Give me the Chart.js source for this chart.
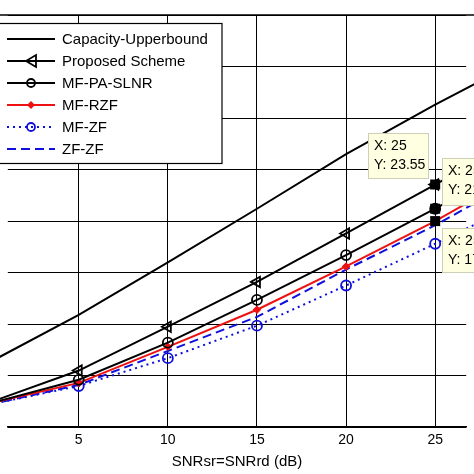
<!DOCTYPE html>
<html><head><meta charset="utf-8">
<script src="https://cdn.jsdelivr.net/npm/chart.js@4"></script>
<style>html,body{margin:0;padding:0;background:#fff}#w{width:474px;height:474px}</style>
</head><body><div id="w"><canvas id="c"></canvas></div>
<script>
const snr = [0, 5, 10, 15, 20, 25, 30];
const capacity = [6.3, 10.9, 16.0, 21.2, 26.5, 31.3, 35.8];
const proposed = [2.4, 5.5, 9.75, 14.1, 18.8, 23.55, 28.4];
const mfPaSlnr = [2.3, 4.6, 8.2, 12.35, 16.7, 21.2, 25.9];
const mfRzf = [2.3, 4.3, 7.8, 11.4, 15.6, 20.0, 24.9];
const mfZf = [2.2, 4.0, 6.7, 9.85, 13.75, 17.8, 22.0];
const zfZf = [2.2, 4.1, 7.4, 10.7, 15.3, 19.6, 24.4];
const xTicks = [5, 10, 15, 20, 25];
const legendNames = ['Capacity-Upperbound','Proposed Scheme','MF-PA-SLNR','MF-RZF','MF-ZF','ZF-ZF'];
const tipTexts = [['X: 25','Y: 23.55'],['X: 25','Y: 21.2'],['X: 25','Y: 17.8']];

const pts = a => a.map((v,i)=>({x:snr[i], y:v}));
const F = '"Liberation Sans", Arial, sans-serif';

const styles = [
 {c:'#000', dash:[], pt:false},
 {c:'#000', dash:[], pt:'triangle', rot:-90, r:6},
 {c:'#000', dash:[], pt:'circle', r:5},
 {c:'#ee1111', dash:[], pt:'rectRot', r:3, fill:true},
 {c:'#1010dd', dash:[2,4], pt:'circle', r:5},
 {c:'#1010dd', dash:[9,5], pt:false}
];
const series = [capacity, proposed, mfPaSlnr, mfRzf, mfZf, zfZf];

const overlay = {
 id:'overlay',
 afterDraw(ch){
  const g = ch.ctx, xs = ch.scales.x, ys = ch.scales.y;
  g.save(); g.strokeStyle='#000'; g.lineWidth=1.5;
  g.beginPath(); g.moveTo(0, ch.chartArea.top); g.lineTo(474, ch.chartArea.top); g.stroke();
  const px = xs.getPixelForValue(25);
  const sq = [proposed[5], mfPaSlnr[5], mfRzf[5]];
  g.fillStyle='#000';
  sq.forEach(v=>{const py=ys.getPixelForValue(v); g.fillRect(px-5,py-5,10,10);});
  const boxes = [[368,133,60,45],[442,158,40,47],[442,228,40,44]];
  g.font = '14px '+F; g.textBaseline='middle';
  boxes.forEach((b,i)=>{
   g.fillStyle='#ffffe1'; g.strokeStyle='#cfcfb8'; g.lineWidth=1;
   g.fillRect(b[0],b[1],b[2],b[3]); g.strokeRect(b[0]+0.5,b[1]+0.5,b[2],b[3]);
   g.fillStyle='#000';
   g.fillText(tipTexts[i][0], b[0]+6, b[1]+13);
   g.fillText(tipTexts[i][1], b[0]+6, b[1]+32);
  });
  g.fillStyle='#fff'; g.fillRect(-2,23,224,140);
  g.strokeStyle='#000'; g.lineWidth=1.2; g.strokeRect(-2,23.5,224,140);
  g.font='15px '+F;
  legendNames.forEach((n,i)=>{
   const y = 39 + i*22, s = styles[i];
   g.strokeStyle=s.c; g.lineWidth = 1.8; g.setLineDash(s.dash);
   g.beginPath(); g.moveTo(7,y); g.lineTo(55,y); g.stroke(); g.setLineDash([]);
   if (s.pt==='triangle'){ g.beginPath(); g.moveTo(26,y); g.lineTo(36,y-6); g.lineTo(36,y+6); g.closePath(); g.stroke(); }
   if (s.pt==='circle'){ g.beginPath(); g.arc(31,y,4,0,Math.PI*2); g.stroke(); }
   if (s.pt==='rectRot'){ g.fillStyle=s.c; g.beginPath(); g.moveTo(31,y-4); g.lineTo(35,y); g.lineTo(31,y+4); g.lineTo(27,y); g.closePath(); g.fill(); }
   g.fillStyle='#000'; g.fillText(n, 62, y+1);
  });
  g.restore();
 }
};

new Chart(document.getElementById('c'), {
 type:'line',
 data:{datasets: series.map((d,i)=>({
  label:legendNames[i], data:pts(d), borderColor:styles[i].c, borderWidth:2,
  borderDash:styles[i].dash, pointStyle:styles[i].pt, pointRotation:styles[i].rot||0,
  pointRadius:styles[i].pt?(styles[i].r||5):0, pointBorderWidth:1.8,
  pointBackgroundColor: styles[i].fill?styles[i].c:'rgba(0,0,0,0)', pointBorderColor:styles[i].c,
  tension:0, clip:false
 }))},
 plugins:[overlay],
 options:{
  animation:false, responsive:true, maintainAspectRatio:false,
  layout:{padding:{top:15,left:0,right:0,bottom:0}},
  plugins:{legend:{display:false}, tooltip:{enabled:false}},
  scales:{
   x:{type:'linear', min:1.02, max:26.74,
     afterBuildTicks:s=>{s.ticks = xTicks.map(v=>({value:v}));},
     grid:{color:'#000', lineWidth:1, tickLength:0},
     border:{color:'#000', width:1.5},
     ticks:{color:'#000', font:{size:14, family:F}, padding:5, maxRotation:0},
     title:{display:true, text:'SNRsr=SNRrd (dB)', color:'#000', font:{size:15, family:F}, padding:{top:-1,bottom:3}}
   },
   y:{min:0, max:40, position:'left',
     ticks:{display:false, stepSize:5}, afterFit:s=>{s.width=0;},
     grid:{color:'#000', lineWidth:1, tickLength:0},
     border:{display:false}
   }
  }
 }
});
</script></body></html>
